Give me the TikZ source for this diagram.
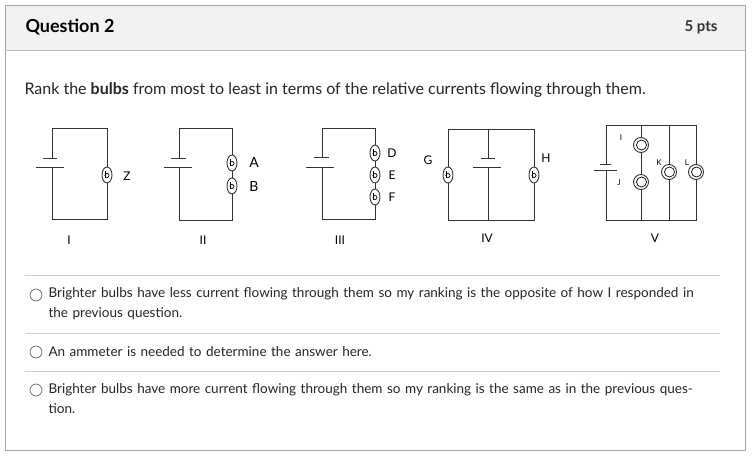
\documentclass[tikz,border=0pt]{standalone}
\usepackage{fontspec}
\setmainfont{Lato}
\begin{document}
\begin{tikzpicture}[x=1pt,y=-1pt,
 w/.style={line width=0.9pt,draw=black!80},
 lbl/.style={font=\fontsize{12}{14}\selectfont},
 opt/.style={anchor=west,font=\fontsize{13.5}{20}\selectfont,text=black!85,align=left,text width=665pt},
 radio/.style={draw=black!60,line width=0.7pt}]
\useasboundingbox (0,0) rectangle (753,466);
\fill[white] (0,0) rectangle (753,466);
\fill[black!5] (5,5) rectangle (745,50);
\draw[black!35] (5,5) rectangle (745,450);
\draw[black!25] (5,50) -- (745,50);
\node[anchor=west,font=\bfseries\fontsize{18}{20}\selectfont] (q) at (22,27) {Question 2};
\node[anchor=east,font=\bfseries\fontsize{15}{17}\selectfont,text=black!80] (p) at (721,27) {5 pts};
\node[anchor=west,font=\fontsize{16}{18}\selectfont,text=black!85] (t) at (21,90) {Rank the \textbf{bulbs} from most to least in terms of the relative currents flowing through them.};
\newcommand\mybulb[2]{\draw[w,fill=white] (#1,#2) ellipse (5 and 8);
 \draw[line width=0.7pt] (#1-2,#2-4) -- (#1-2,#2+3); \draw[line width=0.7pt] (#1,#2+0.5) circle (2);}
\newcommand\ringbulb[2]{\draw[w,fill=white] (#1,#2) circle (7.5); \draw[line width=0.7pt] (#1+0.5,#2) circle (5);}
% I
\draw[w] (52,158) -- (52,128) -- (107,128) -- (107,219) -- (52,219) -- (52,167);
\draw[w] (43,158) -- (57,158); \draw[w] (36,167) -- (64,167);
\mybulb{107}{175}
\node[lbl] (z) at (127,176) {Z};
\node[lbl] (n1) at (69,240) {I};
% II
\draw[w] (179,158) -- (179,128) -- (232,128) -- (232,220) -- (179,220) -- (179,167);
\draw[w] (171,158) -- (186,158); \draw[w] (164,167) -- (192,167);
\mybulb{232}{163}\mybulb{232}{186}
\node[font=\rmfamily\fontsize{14}{16}\selectfont] (a) at (254,162) {A};
\node[font=\rmfamily\fontsize{14}{16}\selectfont] (b) at (254,186) {B};
\node[lbl] (n2) at (203,240) {II};
% III
\draw[w] (322,157) -- (322,128) -- (375,128) -- (375,219) -- (322,219) -- (322,167);
\draw[w] (314,157) -- (329,157); \draw[w] (306,167) -- (334,167);
\mybulb{375}{153}\mybulb{375}{175}\mybulb{375}{197}
\node[lbl] (d) at (392,153) {D};
\node[lbl] (e) at (392,175) {E};
\node[lbl] (f) at (392,197) {F};
\node[lbl] (n3) at (340,240) {III};
% IV
\draw[w] (448,129) rectangle (534,220);
\draw[w] (488,129) -- (488,158); \draw[w] (488,167) -- (488,220);
\draw[w] (481,158) -- (495,158); \draw[w] (473,167) -- (501,167);
\mybulb{448}{175}\mybulb{534}{175}
\node[lbl] (g) at (428,160) {G};
\node[lbl] (h) at (546,158) {H};
\node[lbl] (n4) at (487,238) {IV};
% V
\draw[w] (606,164) -- (606,125) -- (696,125) -- (696,220) -- (606,220) -- (606,170);
\draw[w] (641,125) -- (641,220); \draw[w] (669,125) -- (669,220);
\draw[w] (600,164) -- (611,164); \draw[w] (594,170) -- (617,170);
\ringbulb{641}{145}\ringbulb{641}{182}\ringbulb{669}{172}\ringbulb{696}{172}
\node[font=\fontsize{8}{9}\selectfont] (i) at (621,138) {I};
\node[font=\fontsize{8}{9}\selectfont] (j) at (619,183) {J};
\node[font=\fontsize{8}{9}\selectfont] (k) at (659,163) {K};
\node[font=\fontsize{8}{9}\selectfont] (l) at (687,163) {L};
\node[lbl] (n5) at (655,238) {V};
% options
\draw[black!20] (25,275) -- (720,275);
\draw[black!20] (25,333) -- (720,333);
\draw[black!20] (25,371) -- (720,371);
\draw[radio] (36,295) circle (6);
\draw[radio] (36,352) circle (6);
\draw[radio] (36,390) circle (6);
\node[opt] (o1) at (45,304) {Brighter bulbs have less current flowing through them so my ranking is the opposite of how I responded in the previous question.};
\node[opt] (o2) at (45,352) {An ammeter is needed to determine the answer here.};
\node[opt] (o3) at (45,399) {Brighter bulbs have more current flowing through them so my ranking is the same as in the previous question.};
\end{tikzpicture}
\end{document}
